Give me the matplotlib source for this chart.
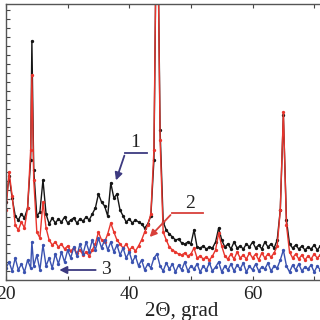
import numpy as np
import matplotlib
matplotlib.use('Agg')
from matplotlib import pyplot as plt
from matplotlib.ticker import MultipleLocator

# 2-theta grid (deg), step 0.5 from 20 to 72
two_theta = np.arange(20.0, 72.01, 0.5)

# intensities (arb. units)
black = [78, 104, 82, 64, 60, 66, 62, 72, 120, 110, 64, 68, 100, 66, 56, 62, 57, 61, 58, 63,
         57, 60, 62, 57, 61, 59, 63, 60, 66, 72, 86, 78, 74, 64, 97, 82, 86, 70, 64, 58,
         61, 57, 60, 58, 56, 52, 56, 64, 120, 420, 150, 58, 50, 46, 43, 40, 41, 37, 36, 38,
         36, 50, 33, 32, 34, 31, 33, 32, 38, 52, 40, 33, 36, 31, 38, 32, 34, 31, 36, 33,
         38, 32, 35, 31, 38, 33, 36, 32, 40, 70, 165, 60, 36, 32, 35, 31, 34, 30, 33, 31,
         35, 30, 34, 31, 33]
red = [70, 108, 84, 55, 50, 58, 52, 72, 130, 100, 48, 42, 78, 52, 40, 35, 38, 33, 36, 31,
       34, 29, 32, 27, 30, 25, 28, 24, 30, 36, 48, 40, 38, 46, 57, 48, 40, 36, 32, 36,
       30, 33, 29, 34, 40, 48, 55, 66, 130, 420, 140, 48, 40, 33, 30, 28, 26, 25, 27, 24,
       26, 32, 22, 24, 21, 23, 20, 24, 30, 47, 34, 24, 21, 26, 21, 28, 22, 25, 21, 27,
       22, 26, 20, 27, 22, 26, 23, 27, 34, 70, 168, 55, 28, 22, 26, 21, 25, 20, 24, 21,
       26, 22, 25, 21, 24]
blue = [12, 18, 9, 22, 10, 16, 8, 20, 12, 14, 25, 10, 35, 14, 22, 12, 26, 16, 28, 18,
        30, 22, 33, 24, 36, 26, 38, 28, 40, 30, 42, 32, 40, 30, 38, 28, 35, 25, 32, 22,
        28, 18, 24, 14, 20, 10, 16, 12, 22, 26, 14, 9, 17, 11, 16, 8, 15, 10, 18, 9,
        14, 11, 16, 8, 14, 10, 17, 9, 13, 18, 8, 14, 10, 16, 9, 15, 11, 17, 8, 14,
        10, 16, 9, 13, 11, 17, 9, 14, 12, 20, 30, 14, 8, 15, 10, 16, 9, 13, 11, 15,
        8, 14, 10, 15, 9]

# extra point on the narrow 24.2 deg reflection
peak_pos = [24.2]
black_peak = [239]
red_peak = [205]
blue_peak = [38]


def with_peaks(values, peaks):
    x = np.concatenate([two_theta, peak_pos])
    y = np.concatenate([values, peaks])
    order = np.argsort(x)
    return x[order], y[order]


fig = plt.figure(figsize=(3.2, 3.2), dpi=100)
ax = fig.add_axes([6 / 320, 40 / 320, 339 / 320, 276 / 320])

style = dict(lw=1.0, marker='o', ms=2.4, mew=0)
ax.plot(*with_peaks(black, black_peak), color='#151515', **style)
ax.plot(*with_peaks(red, red_peak), color='#e8352d', **style)
ax.plot(*with_peaks(blue, blue_peak), color='#3a52b0', **style)

ax.set_xlim(20, 75)
ax.set_ylim(0, 276)

navy = '#3d3a80'
font = dict(family='Liberation Serif', size=14)

# label 1
ax.plot([39.3, 42.9], [127, 127], color=navy, lw=1.3)
ax.annotate('', xy=(37.7, 97), xytext=(39.35, 127),
            arrowprops=dict(arrowstyle='-|>', color=navy, lw=1.3, mutation_scale=11))
ax.text(40.9, 129, '1', ha='center', va='bottom', color='#222222', **font)

# label 2
ax.plot([46.95, 52.0], [67, 67], color='#d8403a', lw=1.3)
ax.annotate('', xy=(43.0, 41), xytext=(47.0, 67),
            arrowprops=dict(arrowstyle='-|>', color='#d8403a', lw=1.3, mutation_scale=10))
ax.text(49.9, 68, '2', ha='center', va='bottom', color='#222222', **font)

# label 3
ax.annotate('', xy=(28.2, 10), xytext=(35.0, 10),
            arrowprops=dict(arrowstyle='-|>', color=navy, lw=1.3, mutation_scale=11))
ax.text(35.4, 10, '3', ha='left', va='center', color='#222222', **font)

ax.xaxis.set_major_locator(MultipleLocator(20))
ax.xaxis.set_minor_locator(MultipleLocator(10))
ax.yaxis.set_major_locator(MultipleLocator(9))
ax.tick_params(axis='x', which='both', direction='in', top=True, length=3, width=0.8,
               colors='#444444', labelcolor='#222222', labelsize=14, pad=4)
ax.tick_params(axis='y', which='both', direction='in', length=3, width=0.8,
               colors='#444444', labelleft=False)
for label in ax.get_xticklabels():
    label.set_family('Liberation Serif')

for sp in ax.spines.values():
    sp.set_color('#555555')
    sp.set_linewidth(1.0)

ax.set_xlabel('2\u0398, grad', color='#222222', labelpad=0,
              family='Liberation Serif', size=15)
ax.xaxis.set_label_coords((182 - 6) / 339, -0.078)

fig.savefig('out.png', dpi=100)
